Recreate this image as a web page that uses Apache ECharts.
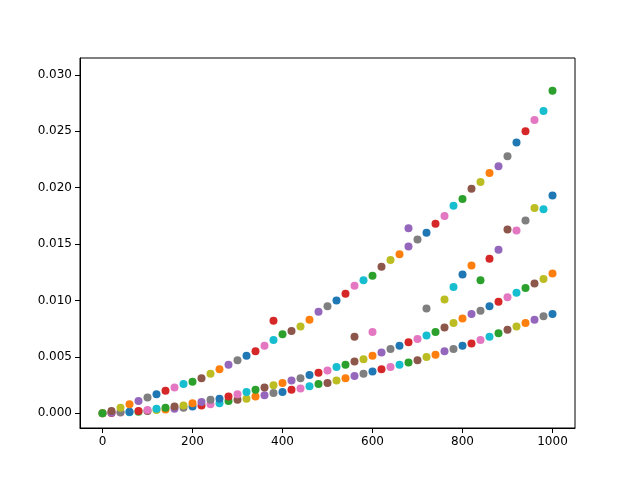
<!DOCTYPE html>
<html>
<head>
<meta charset="utf-8">
<script src="https://cdn.jsdelivr.net/npm/echarts@6/dist/echarts.min.js"></script>
</head>
<body style="margin:0">
<div id="main" style="width:640px;height:480px"></div>
<script>
// x positions shared by the three curves
var xs = [0,20,40,60,80,100,120,140,160,180,200,220,240,260,280,300,320,340,360,380,400,
  420,440,460,480,500,520,540,560,580,600,620,640,660,680,700,720,740,760,780,800,
  820,840,860,880,900,920,940,960,980,1000];
// upper curve
var upper = [0,0.0002,0.0005,0.0008,0.0011,0.0014,0.0017,0.0020,0.0023,0.0026,0.0028,
  0.0031,0.0035,0.0039,0.0043,0.0047,0.0051,0.0055,0.0060,0.0065,0.0070,
  0.0073,0.0077,0.0083,0.0090,0.0095,0.0100,0.0106,0.0113,0.0118,0.0122,
  0.0130,0.0136,0.0141,0.0148,0.0154,0.0160,0.0168,0.0175,0.0184,0.0190,
  0.0199,0.0205,0.0213,0.0219,0.0228,0.0240,0.0250,0.0260,0.0268,0.0286];
// middle curve
var middle = [0,0.00005,0.0001,0.00015,0.0002,0.0003,0.0004,0.0005,0.0006,0.0007,0.0009,
  0.0010,0.0012,0.0013,0.0015,0.0017,0.0019,0.0021,0.0023,0.0025,0.0027,
  0.0029,0.0031,0.0034,0.0036,0.0038,0.0041,0.0043,0.0046,0.0048,0.0051,
  0.0054,0.0057,0.0060,0.0063,0.0066,0.0069,0.0072,0.0076,0.0080,0.0084,
  0.0088,0.0091,0.0095,0.0099,0.0103,0.0107,0.0111,0.0115,0.0119,0.0124];
// lower curve
var lower = [0,0.00003,0.00007,0.0001,0.00015,0.0002,0.0003,0.00035,0.0004,0.0005,0.0006,
  0.0007,0.0008,0.0009,0.0011,0.0012,0.0013,0.0015,0.0016,0.0018,0.0019,
  0.0021,0.0022,0.0024,0.0026,0.0027,0.0029,0.0031,0.0033,0.0035,0.0037,
  0.0039,0.0041,0.0043,0.0045,0.0047,0.0050,0.0052,0.0055,0.0057,0.0060,
  0.0062,0.0065,0.0068,0.0071,0.0074,0.0077,0.0080,0.0083,0.0086,0.0088];
// scattered points off the curves
var extraX = [380,680,560,600,720,760,780,800,820,840,860,880,900,920,940,960,980,1000];
var extraY = [0.0082,0.0164,0.0068,0.0072,0.0093,0.0101,0.0112,0.0123,0.0131,0.0118,0.0137,0.0145,0.0163,0.0162,0.0171,0.0182,0.0181,0.0193];
var xTicks = [0,200,400,600,800,1000];
var yTicks = [0,0.005,0.01,0.015,0.02,0.025,0.03];

var tab10 = ['#1f77b4','#ff7f0e','#2ca02c','#d62728','#9467bd','#8c564b','#e377c2','#7f7f7f','#bcbd22','#17becf'];

var pts = [];
for (var i = 0; i < xs.length; i++) {
  pts.push([xs[i], lower[i]]);
  pts.push([xs[i], middle[i]]);
  pts.push([xs[i], upper[i]]);
}
for (var j = 0; j < extraX.length; j++) pts.push([extraX[j], extraY[j]]);

var chart = echarts.init(document.getElementById('main'));
chart.setOption({
  animation: false,
  textStyle: {fontFamily: 'DejaVu Sans'},
  grid: {left: 80, right: 65, top: 58, bottom: 52, show: true, borderColor: '#000', borderWidth: 1},
  xAxis: {
    type: 'value', min: -50, max: 1050,
    axisLabel: {color: '#000', fontSize: 12, customValues: xTicks,
      formatter: function (v) { return String(v); }},
    axisLine: {onZero: false, lineStyle: {color: '#000'}},
    axisTick: {show: true, lineStyle: {color: '#000'}, customValues: xTicks},
    splitLine: {show: false}
  },
  yAxis: {
    type: 'value', min: -0.0013, max: 0.0315,
    axisLabel: {color: '#000', fontSize: 12, customValues: yTicks,
      formatter: function (v) { return v.toFixed(3); }},
    axisTick: {show: true, lineStyle: {color: '#000'}, customValues: yTicks},
    axisLine: {show: true, onZero: false, lineStyle: {color: '#000'}},
    splitLine: {show: false}
  },
  series: [{
    type: 'scatter',
    symbolSize: 8,
    data: pts,
    itemStyle: {opacity: 1, color: function (p) { return tab10[p.dataIndex % 10]; }}
  }]
});
</script>
</body>
</html>
